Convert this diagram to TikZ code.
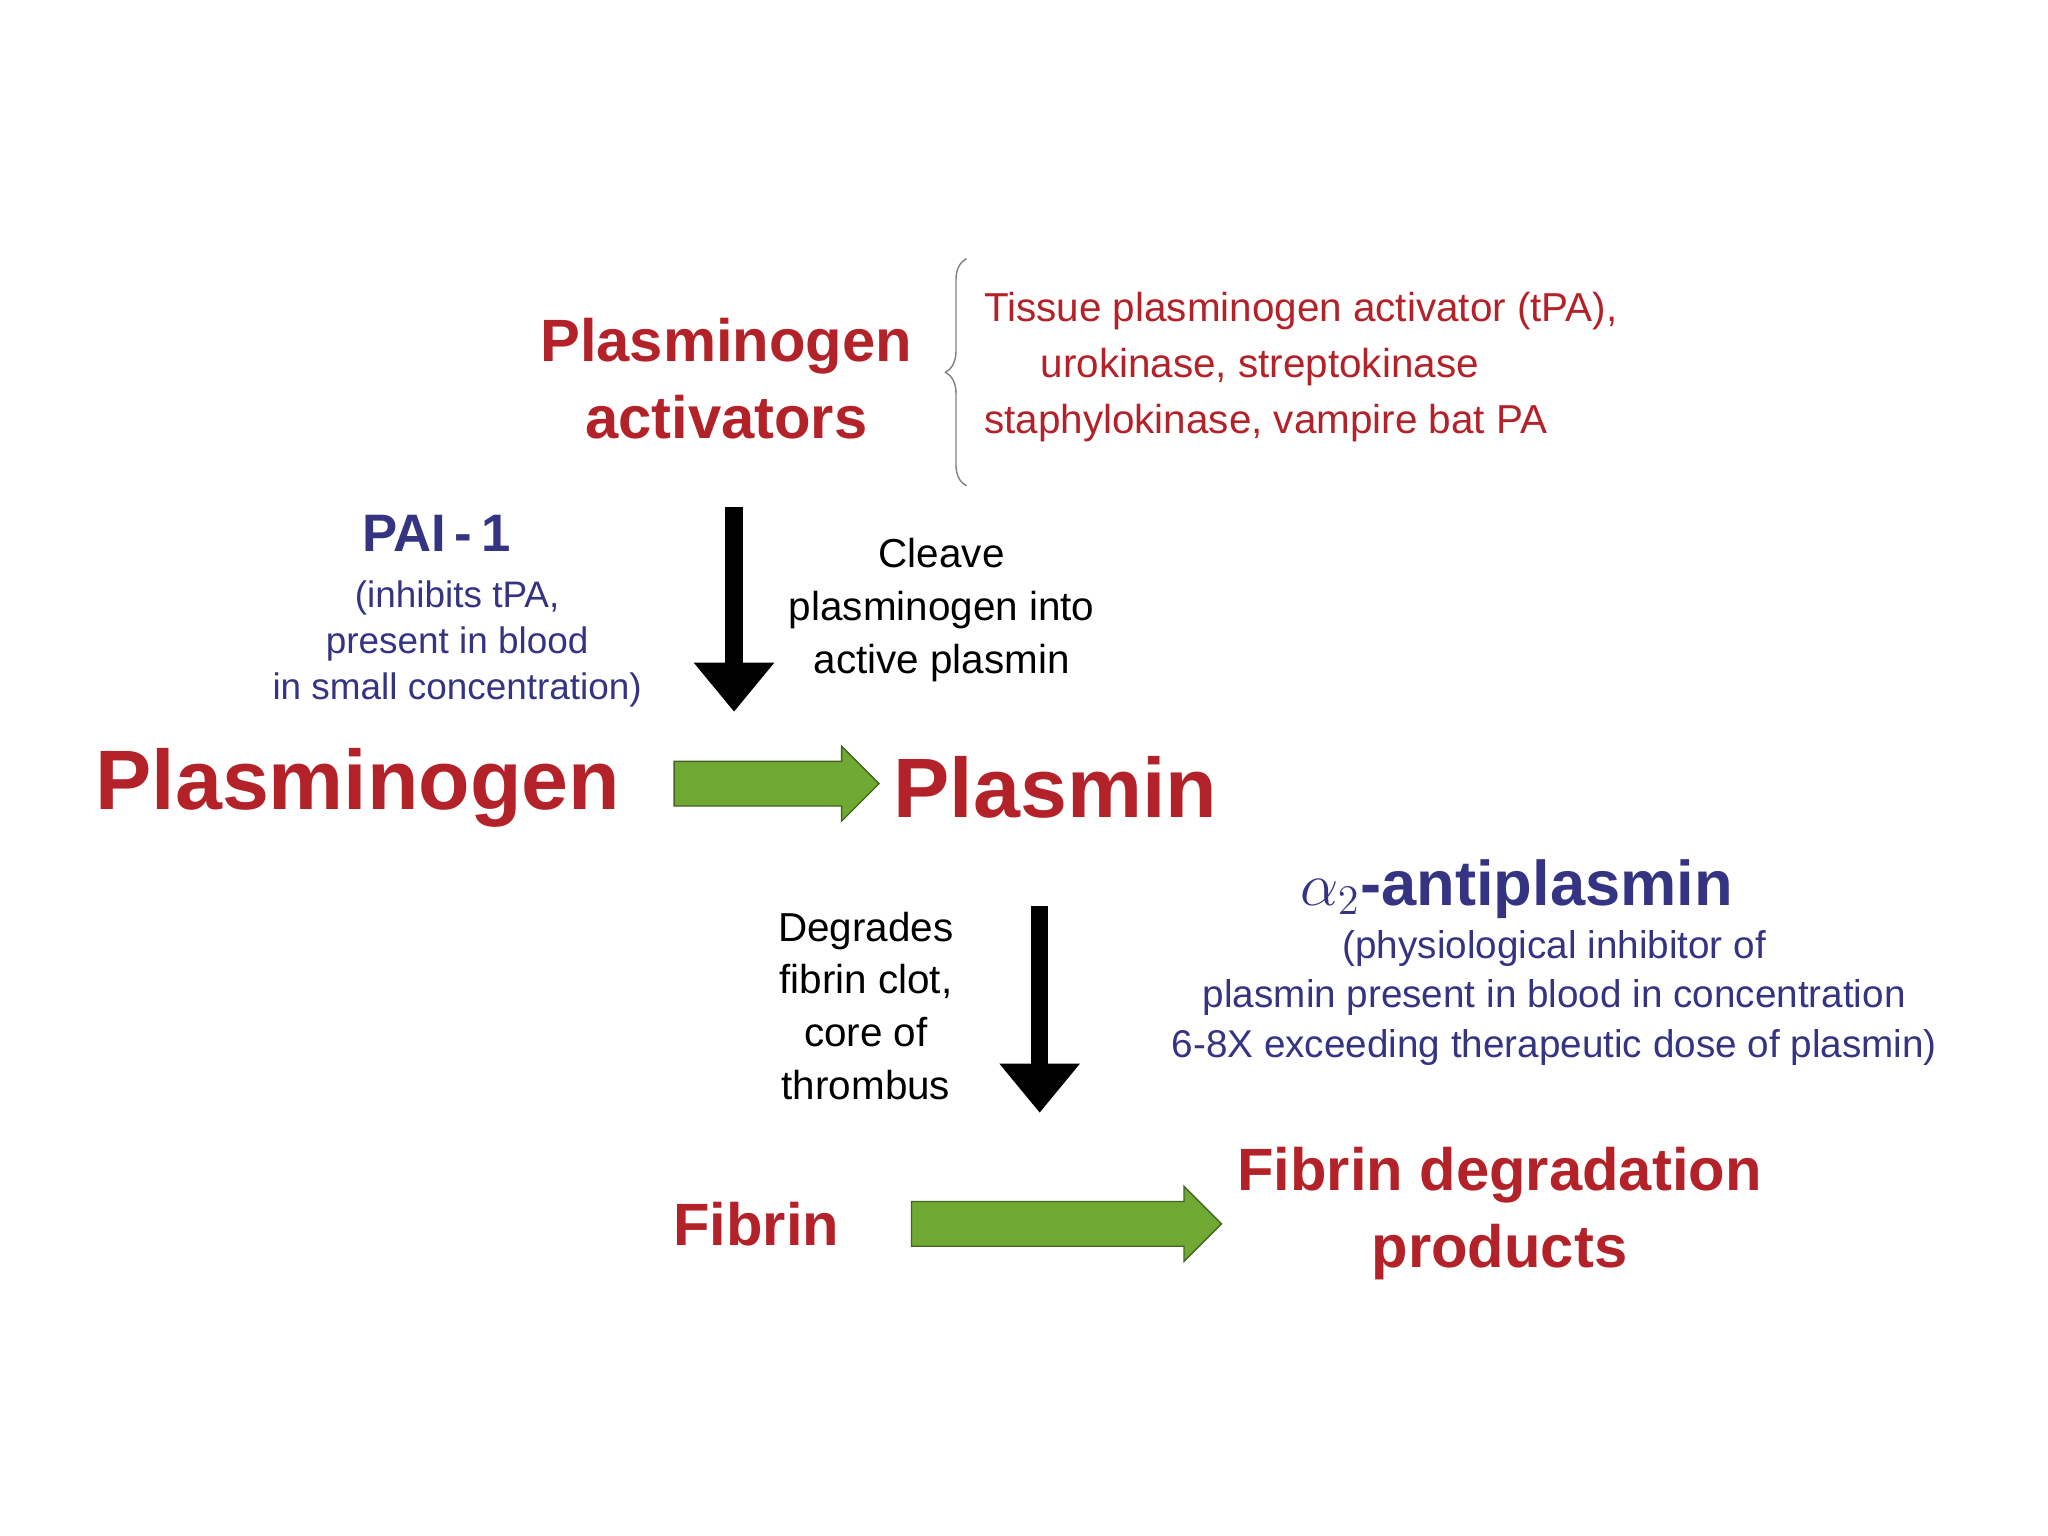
\documentclass[tikz,border=0pt]{standalone}
\usepackage{fontspec}
\setmainfont{Liberation Sans}
\usetikzlibrary{arrows.meta, shapes.arrows, decorations.pathreplacing}
\definecolor{plred}{RGB}{178,34,40}
\definecolor{plblue}{RGB}{52,52,130}
\definecolor{plgreen}{RGB}{112,168,52}
\tikzstyle{big}=[text=plred, font=\fontsize{24}{26}\selectfont\bfseries]
\tikzstyle{head}=[text=plred, font=\fontsize{17}{22}\selectfont\bfseries, align=center]
\tikzstyle{list}=[text=plred, font=\fontsize{11.5}{16}\selectfont, align=left]
\tikzstyle{inh}=[text=plblue, font=\fontsize{10.5}{13}\selectfont, align=center]
\tikzstyle{note}=[text=black, font=\fontsize{11.5}{15}\selectfont, align=center]
\tikzstyle{conv}=[single arrow, draw=plgreen!60!black, fill=plgreen, minimum height=2.05cm, minimum width=0.75cm, single arrow head extend=0.14cm, inner xsep=0pt, inner ysep=0.2cm]
\tikzstyle{down}=[draw, line width=5pt, -{Triangle[length=14pt, width=22pt]}]

\begin{document}
\begin{tikzpicture}[x=0.01306cm, y=-0.01306cm]
\useasboundingbox (0,0) rectangle (1568,1176);

% activators
\node[head] (act) at (556,290) {Plasminogen\\activators};
\node[list] (kinds) at (996,281) {Tissue plasminogen activator (tPA),\\\hspace*{1.4em}urokinase, streptokinase\\staphylokinase, vampire bat PA};
\draw[gray, decorate, decoration={brace, amplitude=6pt}] (740,372) -- (740,198);

% inhibitor of tPA
\node[text=plblue, font=\fontsize{15}{18}\selectfont\bfseries] (pai) at (334,408) {PAI\,-\,1};
\node[inh] (paitxt) at (350,493) {(inhibits tPA,\\present in blood\\in small concentration)};

% first step
\coordinate (a1) at (562,388);
\coordinate (a2) at (562,545);
\path[down] (a1) -- (a2);
\node[note] (cleave) at (721,467) {Cleave\\plasminogen into\\active plasmin};

\node[big] (plg) at (274,603) {Plasminogen};
\node[big] (plm) at (808,603) {Plasmin};
\node[conv] (g1) at (586,600) {};

% second step
\coordinate (b1) at (796,694);
\coordinate (b2) at (796,852);
\path[down] (b1) -- (b2);
\node[note] (degr) at (663,770) {Degrades\\fibrin clot,\\core of\\thrombus};

\node[text=plblue, font=\fontsize{18}{22}\selectfont\bfseries] (anti) at (1161,681) {$\alpha_2$-antiplasmin};
\node[inh, font=\fontsize{11}{14}\selectfont] (antitxt) at (1190,764) {(physiological inhibitor of\\plasmin present in blood in concentration\\6-8X exceeding therapeutic dose of plasmin)};

\node[head] (fib) at (579,937) {Fibrin};
\node[head] (fdp) at (1148,929) {Fibrin degradation\\products};
\node[conv, minimum height=3.1cm] (g2) at (808,937) {};

\end{tikzpicture}
\end{document}
